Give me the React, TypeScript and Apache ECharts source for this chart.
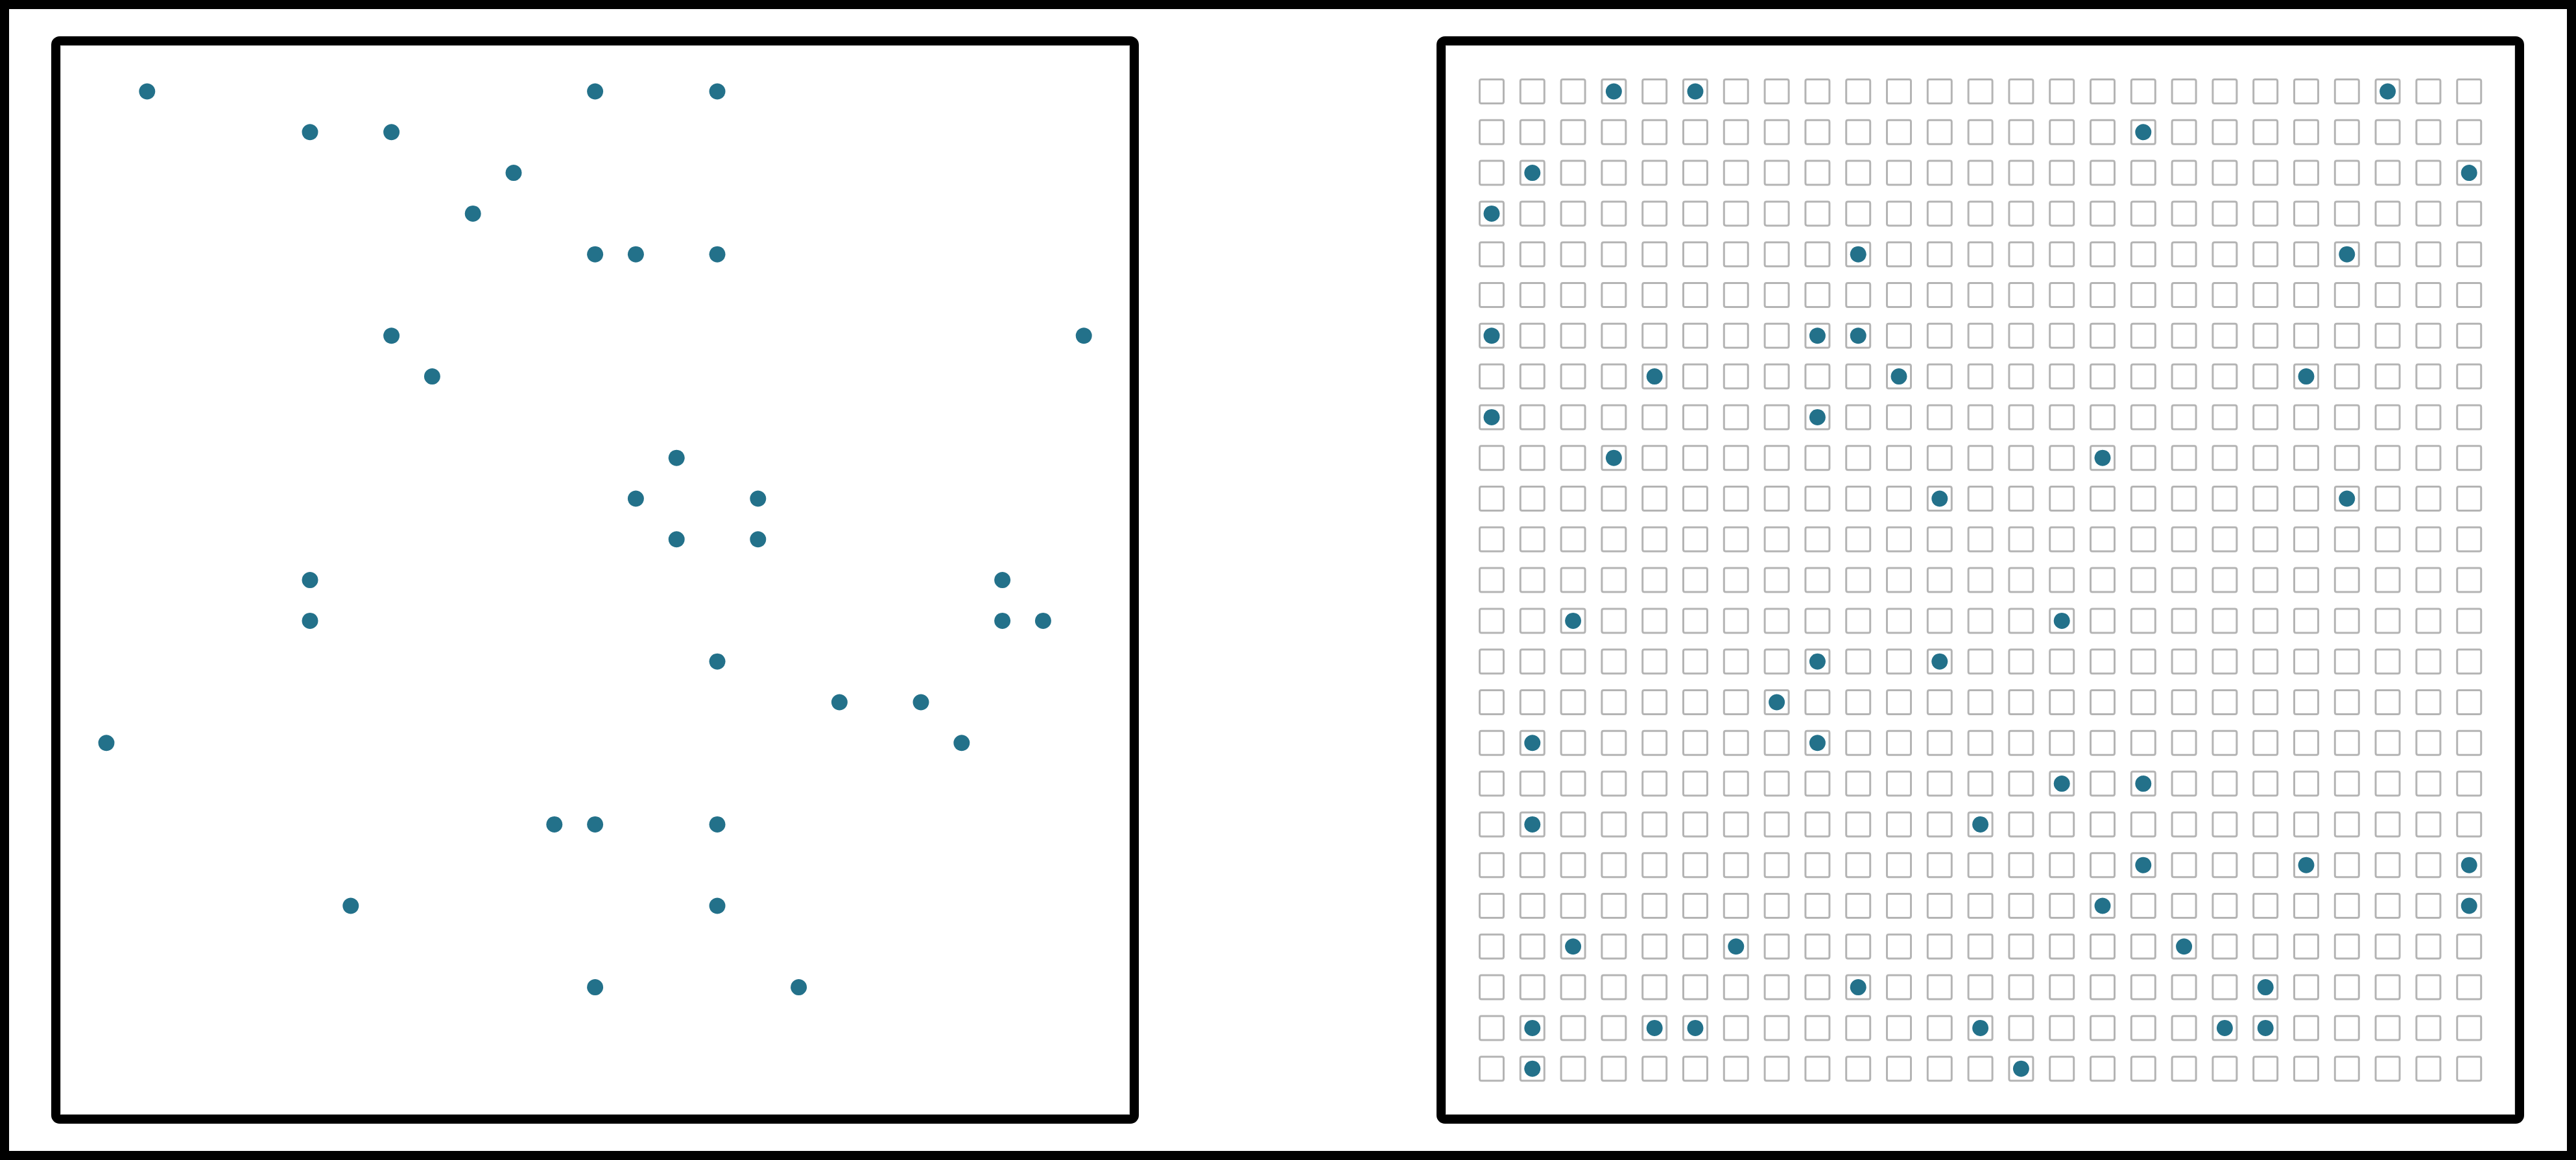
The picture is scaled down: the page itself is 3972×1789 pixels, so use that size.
import React, { useEffect, useRef } from "react";
import * as echarts from "echarts";

// 25 x 25 grid of cell indices (columns and rows)
const GRID_CELLS = [0, 1, 2, 3, 4, 5, 6, 7, 8, 9, 10, 11, 12, 13, 14, 15, 16, 17, 18, 19, 20, 21, 22, 23, 24];

// Left panel points: [column, row]
const LEFT_DOTS: [number, number][] = [
  [1, 0], [12, 0], [15, 0],
  [5, 1], [7, 1],
  [10, 2],
  [9, 3],
  [12, 4], [13, 4], [15, 4],
  [7, 6], [24, 6],
  [8, 7],
  [14, 9],
  [13, 10], [16, 10],
  [14, 11], [16, 11],
  [5, 12], [22, 12],
  [5, 13], [22, 13], [23, 13],
  [15, 14],
  [18, 15], [20, 15],
  [0, 16], [21, 16],
  [11, 18], [12, 18], [15, 18],
  [6, 20], [15, 20],
  [12, 22], [17, 22],
];

// Right panel points: [column, row]
const RIGHT_DOTS: [number, number][] = [
  [3, 0], [5, 0], [22, 0],
  [16, 1],
  [1, 2], [24, 2],
  [0, 3],
  [9, 4], [21, 4],
  [0, 6], [8, 6], [9, 6],
  [4, 7], [10, 7], [20, 7],
  [0, 8], [8, 8],
  [3, 9], [15, 9],
  [11, 10], [21, 10],
  [2, 13], [14, 13],
  [8, 14], [11, 14],
  [7, 15],
  [1, 16], [8, 16],
  [14, 17], [16, 17],
  [1, 18], [12, 18],
  [16, 19], [20, 19], [24, 19],
  [15, 20], [24, 20],
  [2, 21], [6, 21], [17, 21],
  [9, 22], [19, 22],
  [1, 23], [4, 23], [5, 23], [12, 23], [18, 23], [19, 23],
  [1, 24], [13, 24],
];

const DOT_COLOR = "#23718a";
const CELL_BORDER = "#b4b4b4";
const ROUNDED_SQUARE = "path://M3 0H37Q40 0 40 3V37Q40 40 37 40H3Q0 40 0 37V3Q0 0 3 0Z";

export default function App() {
  const ref = useRef<HTMLDivElement>(null);

  useEffect(() => {
    if (!ref.current) return;
    const chart = echarts.init(ref.current, null, { renderer: "svg", width: 3972, height: 1789 });

    const squares: [number, number][] = [];
    for (const r of GRID_CELLS) for (const c of GRID_CELLS) squares.push([c, r]);

    const axisBase: any = { type: "value", min: -0.5, max: 24.5, show: false };

    const panelRect = (x: number) => ({
      type: "rect",
      z: 10,
      shape: { x, y: 63, width: 1663, height: 1663, r: 6 },
      style: { fill: "none", stroke: "#000000", lineWidth: 14 },
      silent: true,
    });
    const innerLine = (x: number) => ({
      type: "rect",
      z: 9,
      shape: { x: x + 7.5, y: 70.5, width: 1648, height: 1648 },
      style: { fill: "none", stroke: "#d4d4d4", lineWidth: 1 },
      silent: true,
    });

    chart.setOption({
      animation: false,
      backgroundColor: "#ffffff",
      grid: [
        { left: 132.6, top: 109.6, width: 1570, height: 1570 },
        { left: 2268.6, top: 109.6, width: 1570, height: 1570 },
      ],
      xAxis: [
        { ...axisBase, gridIndex: 0 },
        { ...axisBase, gridIndex: 1 },
      ],
      yAxis: [
        { ...axisBase, gridIndex: 0, inverse: true },
        { ...axisBase, gridIndex: 1, inverse: true },
      ],
      series: [
        {
          type: "scatter",
          xAxisIndex: 0,
          yAxisIndex: 0,
          data: LEFT_DOTS,
          symbol: "circle",
          symbolSize: 25,
          itemStyle: { color: DOT_COLOR, opacity: 1 },
          silent: true,
        },
        {
          type: "scatter",
          xAxisIndex: 1,
          yAxisIndex: 1,
          data: squares,
          symbol: ROUNDED_SQUARE,
          symbolSize: 37,
          itemStyle: { color: "#ffffff", borderColor: CELL_BORDER, borderWidth: 3, opacity: 1 },
          silent: true,
          z: 2,
        },
        {
          type: "scatter",
          xAxisIndex: 1,
          yAxisIndex: 1,
          data: RIGHT_DOTS,
          symbol: "circle",
          symbolSize: 25,
          itemStyle: { color: DOT_COLOR, opacity: 1 },
          silent: true,
          z: 3,
        },
      ],
      graphic: [
        {
          type: "rect",
          z: 10,
          shape: { x: 7, y: 7, width: 3958, height: 1775 },
          style: { fill: "none", stroke: "#000000", lineWidth: 14 },
          silent: true,
        },
        innerLine(86),
        innerLine(2222),
        panelRect(86),
        panelRect(2222),
      ],
    });

    return () => chart.dispose();
  }, []);

  return (
    <div
      ref={ref}
      style={{ position: "fixed", left: 0, top: 0, width: 3972, height: 1789, background: "#ffffff" }}
    />
  );
}
